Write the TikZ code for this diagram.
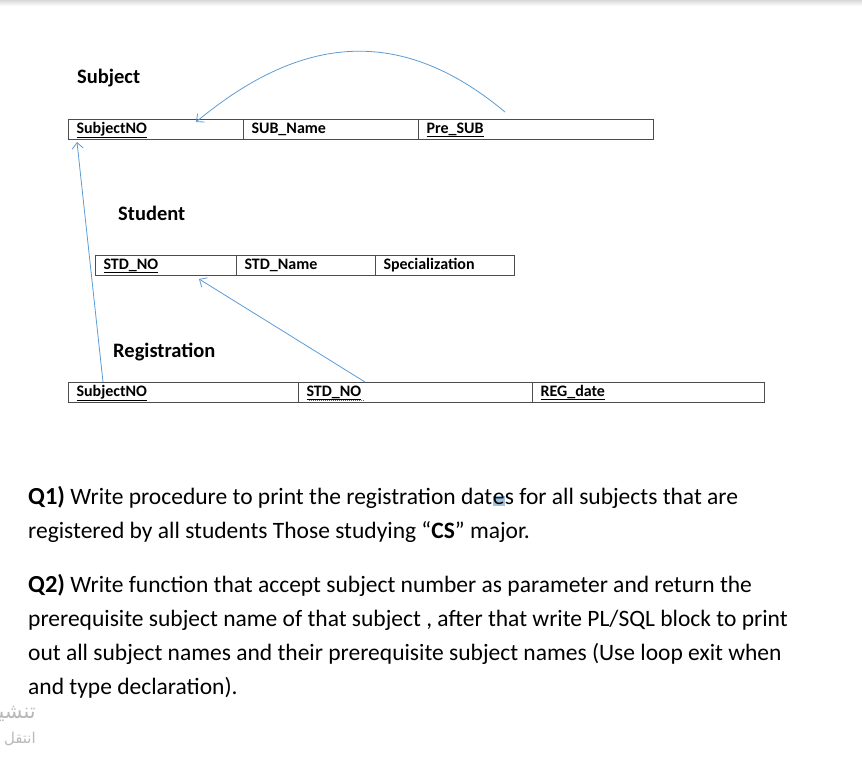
\documentclass[tikz,border=0pt]{standalone}
\usepackage{fontspec}
\setmainfont{Carlito}
\newfontfamily\arabicfont[Script=Arabic]{DejaVu Sans}
\TeXXeTstate=1
\usetikzlibrary{arrows.meta,calc,backgrounds}
\definecolor{lineblue}{RGB}{91,155,213}
\definecolor{hlblue}{RGB}{160,195,225}
\newcommand\qlab[1]{{\bfseries\fontsize{24.5}{28}\selectfont #1}}
\begin{document}
\begin{tikzpicture}[x=1pt,y=-1pt,
  title/.style={font=\bfseries\fontsize{20.5}{24}\selectfont, anchor=west, inner sep=0pt},
  cellbox/.style={draw=black!70, line width=1pt, anchor=north west, minimum height=20pt,
    inner xsep=8pt, inner ysep=0pt, align=left, text height=11pt, text depth=4pt,
    font=\bfseries\fontsize{16}{18}\selectfont},
  conn/.style={draw=lineblue, line width=0.8pt, -{Straight Barb[length=6pt,width=11pt]}},
  qtext/.style={anchor=base west, inner sep=0pt, font=\fontsize{23.5}{28}\selectfont},
  wmark/.style={anchor=east, inner sep=0pt, text=gray!55}]
\useasboundingbox (0,0) rectangle (862,771);
\clip (0,0) rectangle (862,771);
\shade[top color=gray!30, bottom color=white] (0,0) rectangle (862,6);

% Subject
\node[title] (subjT) at (77,78) {Subject};
\node[cellbox, text width=159pt] (s1) at (68,119) {\underline{SubjectNO}};
\node[cellbox, text width=159pt] (s2) at (243,119) {SUB\_Name};
\node[cellbox, text width=219pt] (s3) at (418,119) {\underline{Pre\_SUB}};

% Student
\node[title] (studT) at (118,213) {Student};
\node[cellbox, text width=125pt] (t1) at (95,255) {\underline{STD\_NO}};
\node[cellbox, text width=123pt] (t2) at (236,255) {STD\_Name};
\node[cellbox, text width=123pt] (t3) at (375,255) {Specialization};

% Registration
\node[title] (regT) at (113,352) {Registration};
\node[cellbox, text width=214pt] (r1) at (68,382) {\underline{SubjectNO}};
\node[cellbox, text width=218pt] (r2) at (298,382) {\underline{STD\_NO}};
\node[cellbox, text width=216pt] (r3) at (532,382) {\underline{REG\_date}};
\draw[black!60, line width=1pt, dash pattern=on 1pt off 1pt] (309,400) -- (364,400);

% connectors
\coordinate (arcStart) at ($(s3.north west)+(87,-7)$);
\coordinate (arcTip) at ($(s1.north west)+(128,3)$);
\draw[conn] (arcStart) .. controls (395,20) and (295,40) .. (arcTip);
\coordinate (regSubj) at ($(r1.north west)+(35,0)$);
\coordinate (subjTip) at ($(s1.south west)+(9,2)$);
\draw[conn] (regSubj) -- (subjTip);
\coordinate (regStd) at ($(r2.north west)+(67,0)$);
\coordinate (stdTip) at ($(t1.south west)+(104,3)$);
\draw[conn] (regStd) -- (stdTip);

% Questions
\node[qtext] (q1a) at (28,504) {\qlab{Q1)} Write procedure to print the registration dat};
\node[qtext] (q1e) at (q1a.base east) {e};
\node[qtext] (q1b) at (q1e.base east) {s for all subjects that are};
\begin{scope}[on background layer]
  \fill[hlblue] ($(q1e.base west)+(0,-8)$) rectangle ($(q1e.base east)+(0,2)$);
\end{scope}
\node[qtext] (q1c) at (28,538) {registered by all students Those studying “\textbf{CS}” major.};
\node[qtext] (q2a) at (28,592) {\qlab{Q2)} Write function that accept subject number as parameter and return the};
\node[qtext] (q2b) at (28,626) {prerequisite subject name of that subject , after that write PL/SQL block to print};
\node[qtext] (q2c) at (28,660) {out all subject names and their prerequisite subject names (Use loop exit when};
\node[qtext] (q2d) at (28,694) {and type declaration).};

% watermark (cut off at the left edge, as in the reference)
\node[wmark, font=\arabicfont\fontsize{21}{24}\selectfont] (w1) at (36,712) {\beginR تنشيط \beginL Windows\endL\endR};
\node[wmark, font=\arabicfont\fontsize{15}{18}\selectfont] (w2) at (36,740) {\beginR انتقل إلى الإعدادات لتنشيط \beginL Windows.\endL\endR};
\end{tikzpicture}
\end{document}
